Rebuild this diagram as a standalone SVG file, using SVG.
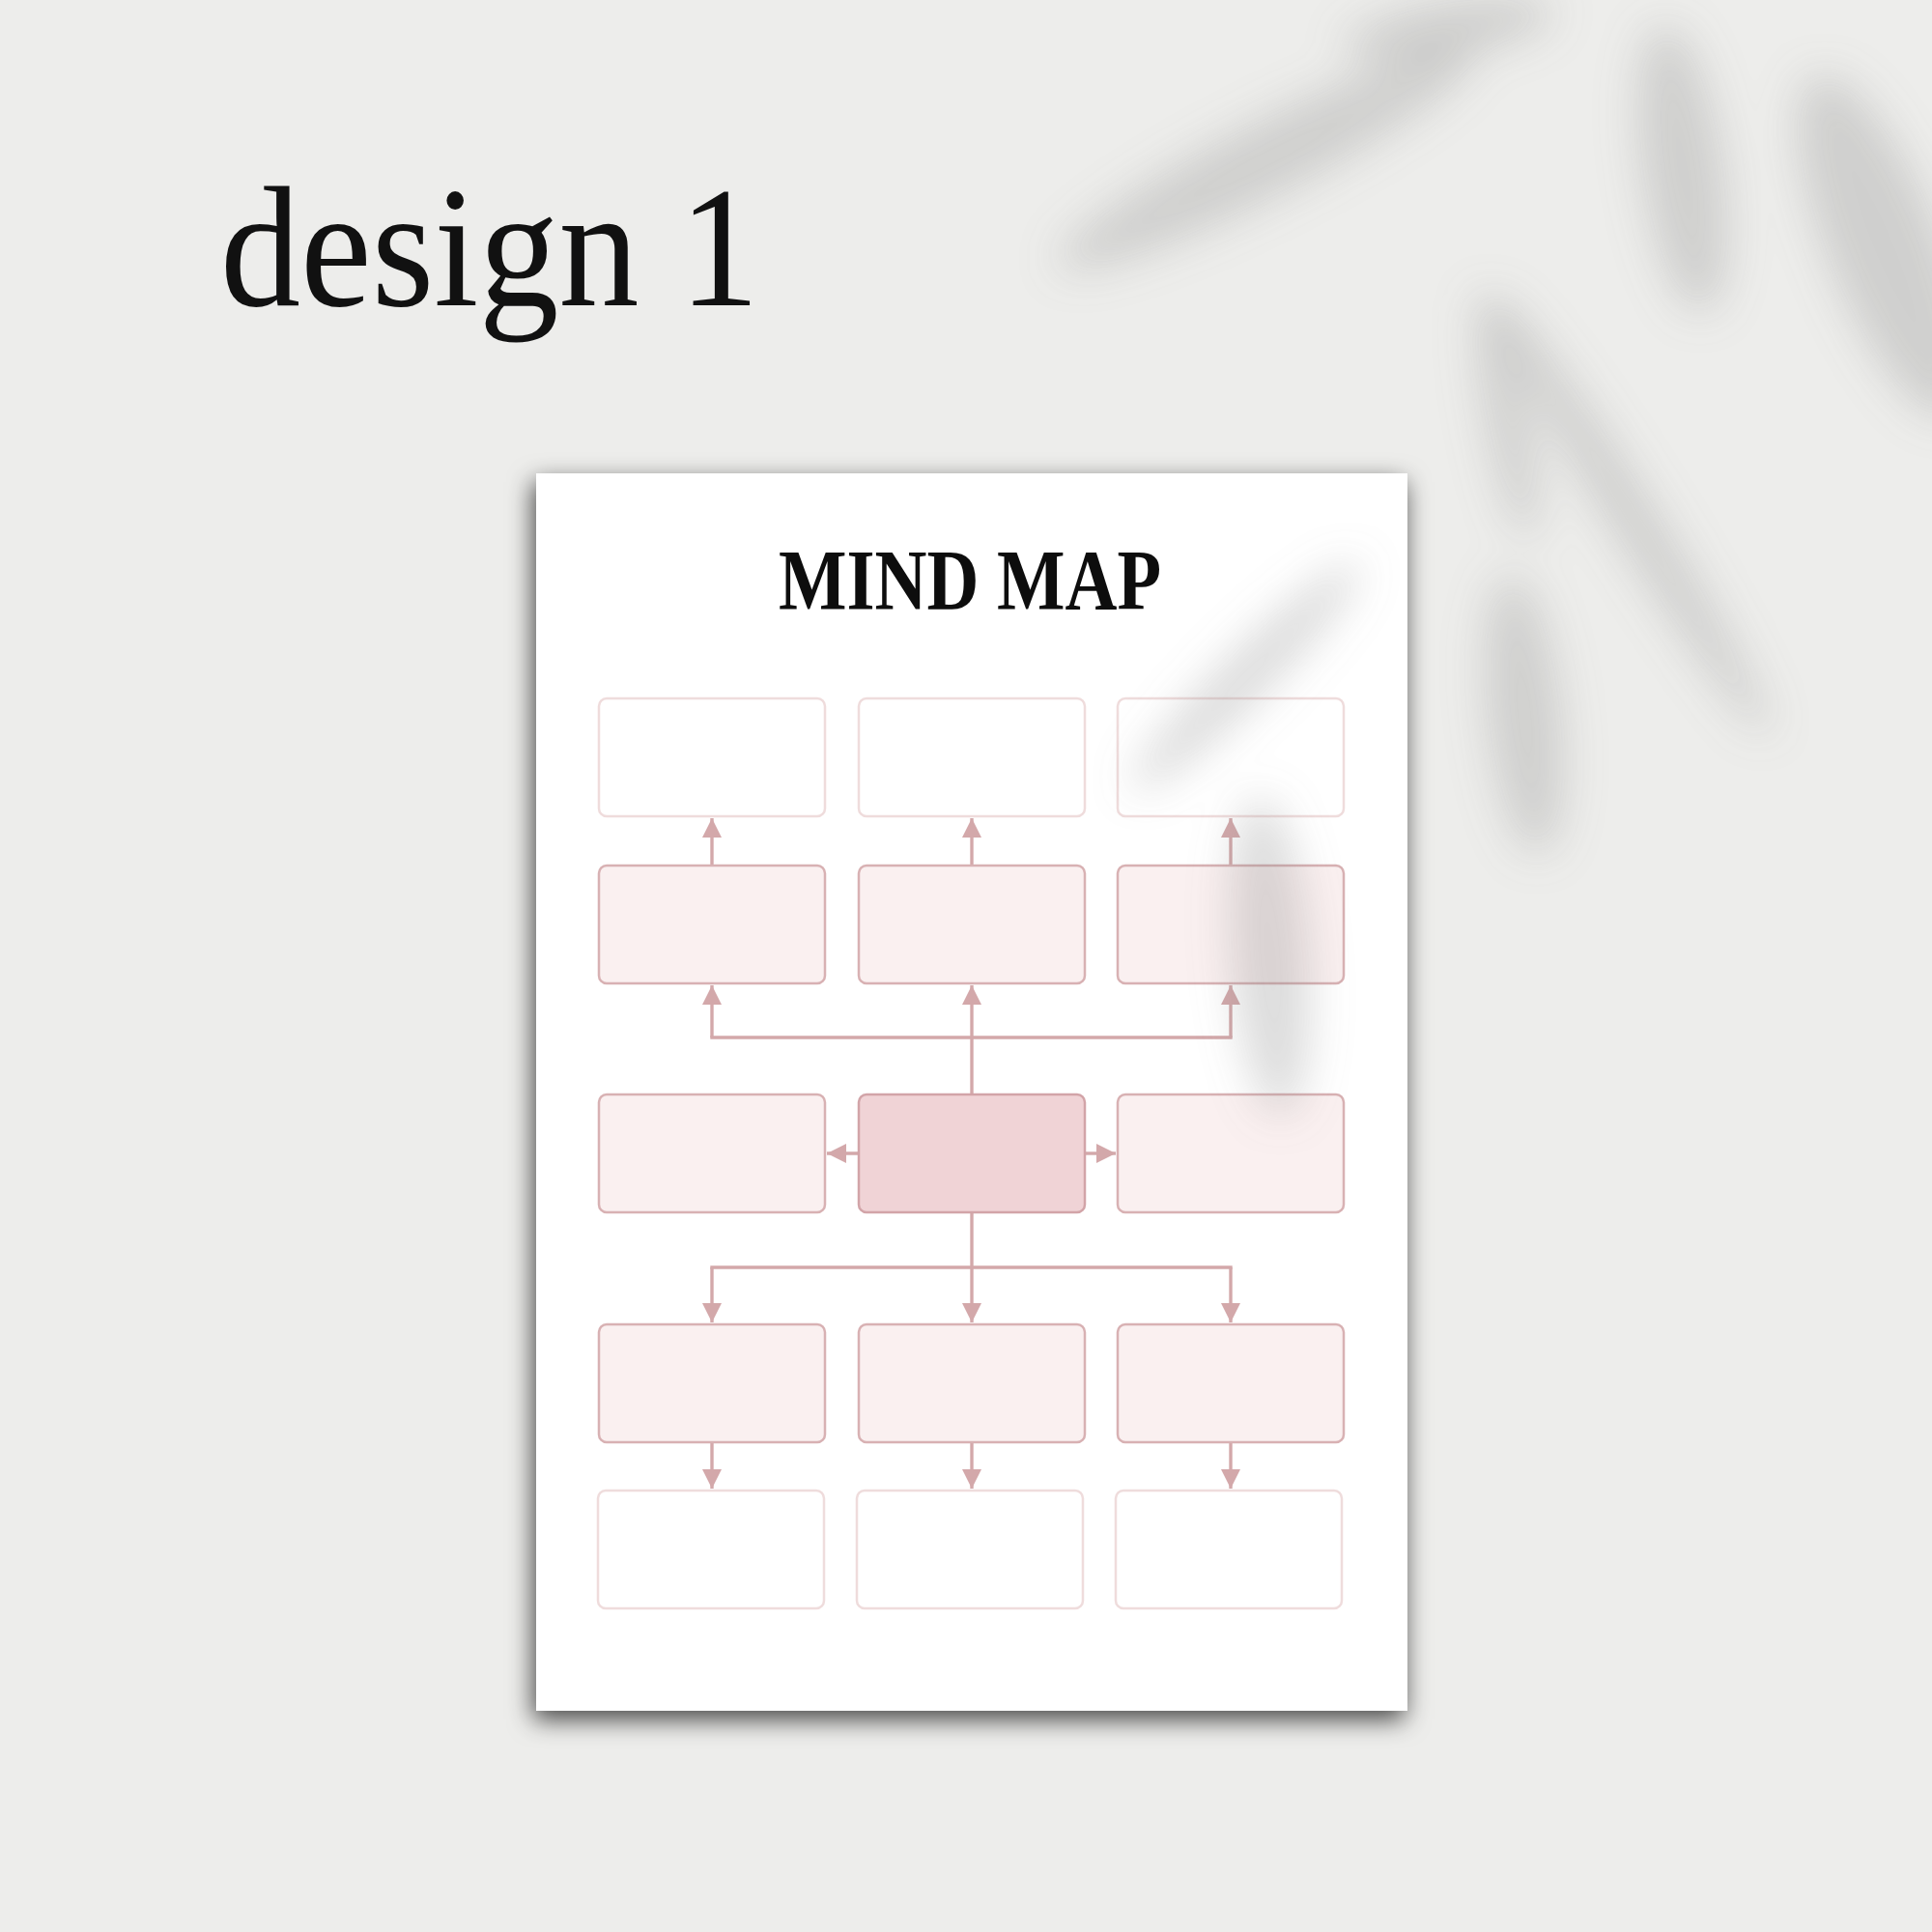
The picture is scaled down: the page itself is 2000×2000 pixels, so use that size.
<svg xmlns="http://www.w3.org/2000/svg" width="2000" height="2000" viewBox="0 0 2000 2000">
<defs>
<filter id="pageShadow" x="-10%" y="-10%" width="120%" height="120%">
<feDropShadow dx="-3" dy="9" stdDeviation="13" flood-color="#000" flood-opacity="0.7"/>
</filter>
<filter id="leafBlur" x="-50%" y="-50%" width="200%" height="200%">
<feGaussianBlur stdDeviation="22"/>
</filter>
<marker id="arrow" viewBox="0 0 10 10" refX="10" refY="5" markerWidth="6" markerHeight="6" markerUnits="strokeWidth" orient="auto">
<path d="M0,0 L10,5 L0,10 Z" fill="#D3A8AA"/>
</marker>
<style>
.bg{fill:#EDEDEB}
.page{fill:#FFFFFF}
.outer{fill:#FFFFFF;stroke:#EFDCDC;stroke-width:2.5}
.mid{fill:#FAF0F0;stroke:#D8B1B3;stroke-width:2.5}
.core{fill:#F0D3D6;stroke:#D2A4A8;stroke-width:2.5}
.conn{fill:none;stroke:#D3A8AA;stroke-width:3.4}
.leaf{fill:#8a8a8a;opacity:0.3}
</style>
</defs>
<rect class="bg" x="0" y="0" width="2000" height="2000"/>

<text x="228" y="316" font-family="'Liberation Serif','Times New Roman',serif" font-size="178" fill="#111111" textLength="558" lengthAdjust="spacingAndGlyphs">design 1</text>

<g id="page">
<rect class="page" x="555" y="490" width="902" height="1281" filter="url(#pageShadow)"/>
<rect class="page" x="555" y="490" width="902" height="1281"/>
</g>

<g id="title">
<text x="806" y="630" font-family="'Liberation Serif','Times New Roman',serif" font-weight="bold" font-size="88" fill="#0d0d0d" textLength="396" lengthAdjust="spacingAndGlyphs">MIND MAP</text>
</g>

<g id="connectors">
<line class="conn" x1="737" y1="896" x2="737" y2="847" marker-end="url(#arrow)"/>
<line class="conn" x1="1006" y1="896" x2="1006" y2="847" marker-end="url(#arrow)"/>
<line class="conn" x1="1274" y1="896" x2="1274" y2="847" marker-end="url(#arrow)"/>
<polyline class="conn" points="737,1074 737,1020" marker-end="url(#arrow)"/>
<polyline class="conn" points="1274,1074 1274,1020" marker-end="url(#arrow)"/>
<line class="conn" x1="735.3" y1="1074" x2="1275.7" y2="1074"/>
<line class="conn" x1="1006" y1="1133" x2="1006" y2="1020" marker-end="url(#arrow)"/>
<line class="conn" x1="889" y1="1194" x2="856" y2="1194" marker-end="url(#arrow)"/>
<line class="conn" x1="1123" y1="1194" x2="1155" y2="1194" marker-end="url(#arrow)"/>
<line class="conn" x1="1006" y1="1256" x2="1006" y2="1369" marker-end="url(#arrow)"/>
<line class="conn" x1="735.3" y1="1312" x2="1275.7" y2="1312"/>
<polyline class="conn" points="737,1312 737,1369" marker-end="url(#arrow)"/>
<polyline class="conn" points="1274,1312 1274,1369" marker-end="url(#arrow)"/>
<line class="conn" x1="737" y1="1493" x2="737" y2="1541" marker-end="url(#arrow)"/>
<line class="conn" x1="1006" y1="1493" x2="1006" y2="1541" marker-end="url(#arrow)"/>
<line class="conn" x1="1274" y1="1493" x2="1274" y2="1541" marker-end="url(#arrow)"/>
</g>

<g id="n-r1c1"><rect class="outer" x="620" y="723" width="234" height="122" rx="8"/></g>
<g id="n-r1c2"><rect class="outer" x="889" y="723" width="234" height="122" rx="8"/></g>
<g id="n-r1c3"><rect class="outer" x="1157" y="723" width="234" height="122" rx="8"/></g>
<g id="n-r2c1"><rect class="mid" x="620" y="896" width="234" height="122" rx="8"/></g>
<g id="n-r2c2"><rect class="mid" x="889" y="896" width="234" height="122" rx="8"/></g>
<g id="n-r2c3"><rect class="mid" x="1157" y="896" width="234" height="122" rx="8"/></g>
<g id="n-r3c1"><rect class="mid" x="620" y="1133" width="234" height="122" rx="8"/></g>
<g id="n-center"><rect class="core" x="889" y="1133" width="234" height="122" rx="8"/></g>
<g id="n-r3c3"><rect class="mid" x="1157" y="1133" width="234" height="122" rx="8"/></g>
<g id="n-r4c1"><rect class="mid" x="620" y="1371" width="234" height="122" rx="8"/></g>
<g id="n-r4c2"><rect class="mid" x="889" y="1371" width="234" height="122" rx="8"/></g>
<g id="n-r4c3"><rect class="mid" x="1157" y="1371" width="234" height="122" rx="8"/></g>
<g id="n-r5c1"><rect class="outer" x="619" y="1543" width="234" height="122" rx="8"/></g>
<g id="n-r5c2"><rect class="outer" x="887" y="1543" width="234" height="122" rx="8"/></g>
<g id="n-r5c3"><rect class="outer" x="1155" y="1543" width="234" height="122" rx="8"/></g>

<g id="leaf-shadows" filter="url(#leafBlur)">
<ellipse class="leaf" cx="1310" cy="165" rx="240" ry="38" transform="rotate(-27 1310 165)"/>
<ellipse class="leaf" cx="1500" cy="30" rx="110" ry="28" transform="rotate(-10 1500 30)"/>
<ellipse class="leaf" cx="1578" cy="740" rx="38" ry="145" transform="rotate(-6 1578 740)"/>
<ellipse class="leaf" cx="1560" cy="430" rx="22" ry="130" transform="rotate(-10 1560 430)" opacity="0.22"/>
<ellipse class="leaf" cx="1690" cy="535" rx="24" ry="265" transform="rotate(-32 1690 535)" opacity="0.24"/>
<ellipse class="leaf" cx="1742" cy="175" rx="42" ry="150" transform="rotate(-8 1742 175)"/>
<ellipse class="leaf" cx="1950" cy="255" rx="58" ry="190" transform="rotate(-22 1950 255)"/>
<ellipse class="leaf" cx="1290" cy="700" rx="165" ry="26" transform="rotate(-45 1290 700)" opacity="0.16"/>
<ellipse class="leaf" cx="1315" cy="990" rx="40" ry="165" transform="rotate(-4 1315 990)" opacity="0.2"/>
</g>
</svg>
